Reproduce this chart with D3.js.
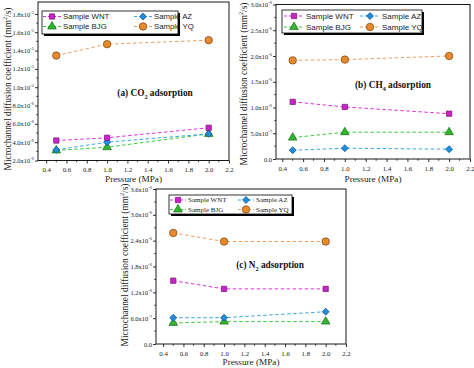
<!DOCTYPE html>
<html><head><meta charset="utf-8">
<script src="https://cdn.jsdelivr.net/npm/d3@7"></script>
<style>html,body{margin:0;padding:0;background:#fff;}svg{display:block;}</style>
</head><body>
<svg id="chart" width="474" height="368"></svg>
<script>
// ---------- DATA ----------
const pressures = [0.5, 1.0, 2.0];
const seriesNames = ["Sample WNT", "Sample AZ", "Sample BJG", "Sample YQ"];
const xTicks = [0.4, 0.6, 0.8, 1.0, 1.2, 1.4, 1.6, 1.8, 2.0, 2.2];

const co2WNT = [4.18e-6, 4.48e-6, 5.57e-6];
const co2AZ  = [3.17e-6, 4.00e-6, 4.91e-6];
const co2BJG = [3.10e-6, 3.45e-6, 4.90e-6];
const co2YQ  = [1.345e-5, 1.47e-5, 1.513e-5];
const co2YTicks = [2e-6, 4e-6, 6e-6, 8e-6, 1.0e-5, 1.2e-5, 1.4e-5, 1.6e-5, 1.8e-5];

const ch4WNT = [1.11e-6, 1.01e-6, 0.88e-6];
const ch4AZ  = [0.17e-6, 0.21e-6, 0.19e-6];
const ch4BJG = [0.415e-6, 0.52e-6, 0.52e-6];
const ch4YQ  = [1.915e-6, 1.93e-6, 2.00e-6];
const ch4YTicks = [0, 5e-7, 1.0e-6, 1.5e-6, 2.0e-6, 2.5e-6, 3.0e-6];

const n2WNT = [1.47e-6, 1.28e-6, 1.28e-6];
const n2AZ  = [0.61e-6, 0.61e-6, 0.75e-6];
const n2BJG = [0.49e-6, 0.52e-6, 0.52e-6];
const n2YQ  = [2.58e-6, 2.38e-6, 2.38e-6];
const n2YTicks = [0, 6e-7, 1.2e-6, 1.8e-6, 2.4e-6, 3.0e-6, 3.6e-6];

// ---------- STYLE ----------
const styles = {
  "Sample WNT": {fill: "#cc22cc", stroke: "#7a107a", line: "#dd33dd", shape: "square"},
  "Sample AZ":  {fill: "#1e8fe0", stroke: "#0d4f88", line: "#3aa8e0", shape: "diamond"},
  "Sample BJG": {fill: "#2eb82e", stroke: "#156b15", line: "#3cc83c", shape: "triangle"},
  "Sample YQ":  {fill: "#e8892c", stroke: "#7a4410", line: "#eea060", shape: "circle"}
};
const serif = "'Liberation Serif','Times New Roman',serif";
const sans = "'Liberation Sans',Arial,sans-serif";

const svg = d3.select("#chart");

function symbolPath(shape) {
  if (shape === "square") return d3.symbol().type(d3.symbolSquare).size(28)();
  if (shape === "diamond") return d3.symbol().type(d3.symbolSquare).size(24)();
  if (shape === "triangle") return d3.symbol().type(d3.symbolTriangle).size(32)();
  return d3.symbol().type(d3.symbolCircle).size(44)();
}
function drawMarker(g, name, x, y) {
  const st = styles[name];
  g.append("path").attr("d", symbolPath(st.shape))
    .attr("transform", `translate(${x},${y})` + (st.shape === "diamond" ? " rotate(45)" : ""))
    .attr("fill", st.fill).attr("stroke", st.stroke).attr("stroke-width", 0.7);
}

function yLabelText(sel, v) {
  if (v === 0) { sel.text("0.0"); return; }
  const e = Math.floor(Math.log10(v) + 1e-9);
  const m = v / Math.pow(10, e);
  sel.append("tspan").text(m.toFixed(1) + "x10");
  sel.append("tspan").attr("font-size", 4.5).attr("dy", -3).text(String(e));
}

function drawPanel(c) {
  const x = d3.scaleLinear().domain(c.xDomain).range([c.left, c.right]);
  const y = d3.scaleLinear().domain(c.yDomain).range([c.bottom, c.top]);
  const g = svg.append("g");

  // frame
  g.append("rect").attr("x", c.left).attr("y", c.top)
    .attr("width", c.right - c.left).attr("height", c.bottom - c.top)
    .attr("fill", "none").attr("stroke", "#000").attr("stroke-width", 0.9);

  // x axis
  const xa = d3.axisBottom(x).tickValues(xTicks).tickSize(3).tickFormat(d3.format(".1f"));
  const xg = g.append("g").attr("transform", `translate(0,${c.bottom})`).call(xa);
  xg.select(".domain").remove();
  xg.selectAll("text").attr("font-family", serif).attr("font-size", 6.8).attr("fill", "#222").attr("dy", "0.85em");
  const xMinor = xTicks.slice(0, -1).map(t => t + 0.1);
  g.selectAll(null).data(xMinor).enter().append("line")
    .attr("x1", d => x(d)).attr("x2", d => x(d)).attr("y1", c.bottom).attr("y2", c.bottom + 1.8)
    .attr("stroke", "#000").attr("stroke-width", 0.7);

  // y axis
  const ya = d3.axisLeft(y).tickValues(c.yTicks).tickSize(3).tickFormat("");
  const yg = g.append("g").attr("transform", `translate(${c.left},0)`).call(ya);
  yg.select(".domain").remove();
  yg.selectAll(".tick").append("text")
    .attr("x", -4).attr("dy", "0.32em").attr("text-anchor", "end")
    .attr("font-family", serif).attr("font-size", 6.5).attr("fill", "#222")
    .each(function(d) { yLabelText(d3.select(this), d); });
  const step = c.yTicks[1] - c.yTicks[0];
  const yMinor = c.yTicks.slice(0, -1).map(t => t + step / 2);
  g.selectAll(null).data(yMinor).enter().append("line")
    .attr("x1", c.left - 1.8).attr("x2", c.left).attr("y1", d => y(d)).attr("y2", d => y(d))
    .attr("stroke", "#000").attr("stroke-width", 0.7);
  g.selectAll(".tick line").attr("stroke-width", 0.8);

  // axis titles
  g.append("text").attr("x", (c.left + c.right) / 2).attr("y", c.xTitleY)
    .attr("text-anchor", "middle").attr("font-family", serif).attr("font-size", 9.2).attr("fill", "#222")
    .text("Pressure (MPa)");
  const yt = g.append("text").attr("transform", `translate(${c.yTitleX},${c.yTitleY}) rotate(-90)`)
    .attr("text-anchor", "middle").attr("font-family", serif).attr("font-size", 9.4).attr("fill", "#222");
  yt.append("tspan").text("Microchannel diffusion coefficient (mm");
  yt.append("tspan").attr("font-size", 6.2).attr("dy", -3.6).text("2");
  yt.append("tspan").attr("dy", 3.6).text("/s)");

  // series
  const line = d3.line().x(d => x(d[0])).y(d => y(d[1]));
  const order = ["Sample YQ", "Sample BJG", "Sample AZ", "Sample WNT"];
  order.forEach(name => {
    const vals = c.data[name];
    const pts = pressures.map((p, i) => [p, vals[i]]);
    g.append("path").datum(pts).attr("d", line).attr("fill", "none")
      .attr("stroke", styles[name].line).attr("stroke-width", 1).attr("stroke-dasharray", "3.5,2.5");
  });
  order.forEach(name => {
    const vals = c.data[name];
    pressures.forEach((p, i) => drawMarker(g, name, x(p), y(vals[i])));
  });

  // annotation
  const an = g.append("text").attr("x", c.annX).attr("y", c.annY).attr("text-anchor", "middle")
    .attr("font-family", serif).attr("font-weight", "bold").attr("font-size", 9.3).attr("fill", "#111");
  an.append("tspan").text(c.ann[0]);
  an.append("tspan").attr("font-size", 6.2).attr("dy", 2.5).text(c.ann[1]);
  an.append("tspan").attr("dy", -2.5).text(c.ann[2]);

  // legend
  const L = c.legend;
  g.append("rect").attr("x", L.x + 2).attr("y", L.y + 2).attr("width", L.w).attr("height", L.h).attr("fill", "#000");
  g.append("rect").attr("x", L.x).attr("y", L.y).attr("width", L.w).attr("height", L.h)
    .attr("fill", "#fff").attr("stroke", "#000").attr("stroke-width", 0.8);
  const pos = [[0, 0], [1, 0], [0, 1], [1, 1]];
  seriesNames.forEach((name, i) => {
    const cx = L.x + L.col[pos[i][0]];
    const cy = L.y + L.row[pos[i][1]];
    g.append("line").attr("x1", cx - L.seg).attr("x2", cx + L.seg).attr("y1", cy).attr("y2", cy)
      .attr("stroke", styles[name].line).attr("stroke-width", 1).attr("stroke-dasharray", "3,2");
    drawMarker(g, name, cx, cy);
    g.append("text").attr("x", cx + L.seg + 2).attr("y", cy).attr("dy", "0.35em")
      .attr("font-family", L.font).attr("font-size", L.fs).attr("fill", "#222").text(name);
  });
}

drawPanel({
  left: 38, right: 229, top: 2, bottom: 160.5,
  xDomain: [0.32, 2.2], yDomain: [2e-6, 1.93e-5], yTicks: co2YTicks,
  data: {"Sample WNT": co2WNT, "Sample AZ": co2AZ, "Sample BJG": co2BJG, "Sample YQ": co2YQ},
  xTitleY: 181.5, yTitleX: 11, yTitleY: 89,
  ann: ["(a) CO", "2", " adsorption"], annX: 155, annY: 96,
  legend: {x: 42, y: 11, w: 136, h: 23, col: [10, 101], row: [5.5, 15.5], seg: 9, font: sans, fs: 7.8}
});
drawPanel({
  left: 276, right: 470, top: 4.5, bottom: 159,
  xDomain: [0.34, 2.2], yDomain: [0, 3e-6], yTicks: ch4YTicks,
  data: {"Sample WNT": ch4WNT, "Sample AZ": ch4AZ, "Sample BJG": ch4BJG, "Sample YQ": ch4YQ},
  xTitleY: 181.5, yTitleX: 247, yTitleY: 84,
  ann: ["(b) CH", "4", " adsorption"], annX: 393, annY: 88,
  legend: {x: 282, y: 10, w: 140, h: 23, col: [12, 88], row: [6, 17], seg: 10, font: sans, fs: 8}
});
drawPanel({
  left: 156, right: 346, top: 189, bottom: 344,
  xDomain: [0.33, 2.2], yDomain: [0, 3.6e-6], yTicks: n2YTicks,
  data: {"Sample WNT": n2WNT, "Sample AZ": n2AZ, "Sample BJG": n2BJG, "Sample YQ": n2YQ},
  xTitleY: 364.5, yTitleX: 128, yTitleY: 265,
  ann: ["(c) N", "2", " adsorption"], annX: 270, annY: 268,
  legend: {x: 169, y: 195, w: 123, h: 19, col: [9, 77], row: [5, 14.5], seg: 8, font: serif, fs: 7}
});
</script>
</body></html>
